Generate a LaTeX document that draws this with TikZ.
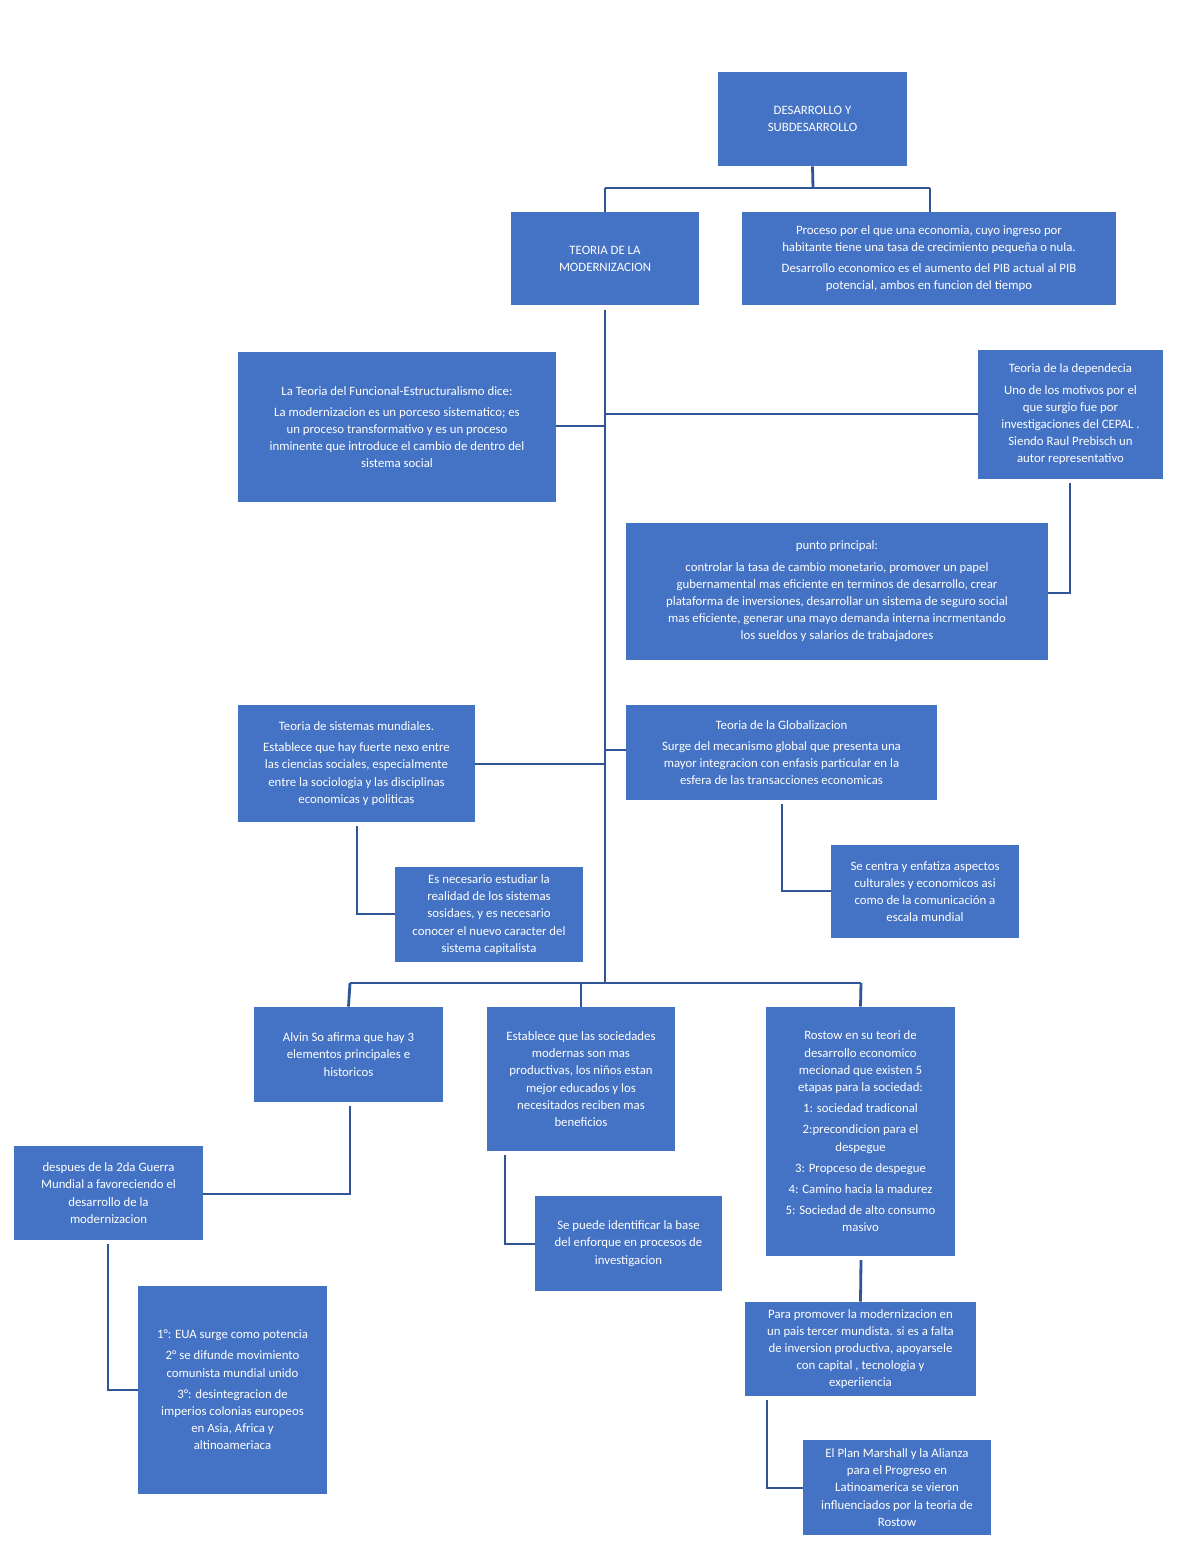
\documentclass[tikz,border=0pt]{standalone}
\usepackage{fontspec}
\setmainfont{Carlito}
\begin{document}
\begin{tikzpicture}[x=0.5pt,y=-0.5pt]
\definecolor{bx}{HTML}{4472C4}
\definecolor{ln}{HTML}{2F5597}
\tikzset{box/.style={fill=bx,draw=none,text=white,align=center,font=\fontsize{6.4pt}{8.6pt}\selectfont,inner sep=1pt},
 con/.style={draw=ln,line width=1.4pt}}
\useasboundingbox (0,0) rectangle (1200,1553);
\fill[white] (0,0) rectangle (1200,1553);
\newcommand{\bx}[6]{\node[box,minimum width={(#4-#2)*0.5pt},minimum height={(#5-#3)*0.5pt}] (#1) at ({(#2+#4)/2},{(#3+#5)/2}) {#6};}
\bx{A}{718}{72}{907}{166}{DESARROLLO Y\\SUBDESARROLLO}
\bx{B}{511}{212}{699}{305}{TEORIA DE LA\\MODERNIZACION}
\bx{C}{742}{212}{1116}{305}{Proceso por el que una economia, cuyo ingreso por\\habitante tiene una tasa de crecimiento pequeña o nula.\\[2pt]Desarrollo economico es el aumento del PIB actual al PIB\\potencial, ambos en funcion del tiempo}
\bx{D}{238}{352}{556}{502}{La Teoria del Funcional-Estructuralismo dice:\\[2pt]La modernizacion es un porceso sistematico; es\\un proceso transformativo y es un proceso\\inminente que introduce el cambio de dentro del\\sistema social}
\bx{E}{978}{350}{1163}{479}{Teoria de la dependecia\\[2pt]Uno de los motivos por el\\que surgio fue por\\investigaciones  del CEPAL .\\Siendo Raul Prebisch un\\autor representativo}
\bx{F}{626}{523}{1048}{660}{punto principal:\\[2pt]controlar la tasa de cambio monetario, promover un papel\\gubernamental mas eficiente en terminos de desarrollo, crear\\plataforma de inversiones, desarrollar un sistema de seguro social\\mas eficiente, generar una mayo demanda interna incrmentando\\los sueldos y salarios de trabajadores}
\bx{G}{238}{705}{475}{822}{Teoria de sistemas mundiales.\\[2pt]Establece que hay fuerte nexo entre\\las ciencias sociales, especialmente\\entre la sociologia y las disciplinas\\economicas y politicas}
\bx{H}{626}{705}{937}{800}{Teoria de la Globalizacion\\[2pt]Surge del mecanismo global que presenta una\\mayor integracion con enfasis particular en la\\esfera de las transacciones economicas}
\bx{I}{395}{867}{583}{962}{Es necesario estudiar la\\realidad de los sistemas\\sosidaes, y es necesario\\conocer el nuevo caracter del\\sistema capitalista}
\bx{J}{831}{845}{1019}{938}{Se centra y enfatiza aspectos\\culturales y economicos asi\\como de la comunicación a\\escala mundial}
\bx{K}{254}{1007}{443}{1102}{Alvin So afirma que hay 3\\elementos principales e\\historicos}
\bx{L}{487}{1007}{675}{1151}{Establece  que las sociedades\\modernas son mas\\productivas, los niños estan\\mejor educados y los\\necesitados reciben mas\\beneficios}
\bx{M}{766}{1007}{955}{1256}{Rostow en su teori de\\desarrollo economico\\mecionad que existen 5\\etapas para la sociedad:\\[2pt]1: sociedad tradiconal\\[2pt]2:precondicion para el\\despegue\\[2pt]3: Propceso de despegue\\[2pt]4: Camino hacia la madurez\\[2pt]5: Sociedad de alto consumo\\masivo}
\bx{N}{14}{1146}{203}{1240}{despues de la 2da Guerra\\Mundial a favoreciendo el\\desarrollo de la\\modernizacion}
\bx{O}{535}{1196}{722}{1291}{Se puede identificar la base\\del enforque en procesos de\\investigacion}
\bx{P}{745}{1302}{976}{1396}{Para promover la modernizacion en\\un pais tercer mundista. si es a falta\\de inversion productiva, apoyarsele\\con capital , tecnologia y\\experiiencia}
\bx{Q}{138}{1286}{327}{1494}{1°: EUA surge como potencia\\[2pt]2° se difunde movimiento\\comunista mundial unido\\[2pt]3°: desintegracion de\\imperios colonias europeos\\en Asia, Africa y\\altinoameriaca}
\bx{R}{803}{1440}{991}{1535}{El Plan Marshall y la Alianza\\para el Progreso en\\Latinoamerica se vieron\\influenciados por la teoria de\\Rostow}
\coordinate (t1) at (813,188);
\draw[con] (A.south) -- (t1);
\draw[con] (605,188) -- (930,188);
\draw[con] (605,188) -- (605,212);
\draw[con] (930,188) -- (930,212);
\coordinate (m0) at (605,310);
\coordinate (m1) at (605,983);
\draw[con] (m0) -- (m1);
\draw[con] (D.east |- 0,426) -- (605,426);
\draw[con] (605,414) -- (E.west |- 0,414);
\draw[con] (1070,483) -- (1070,593) -- (F.east |- 0,593);
\draw[con] (G.east |- 0,764) -- (605,764);
\draw[con] (605,750) -- (H.west |- 0,750);
\draw[con] (357,826) -- (357,914) -- (I.west |- 0,914);
\draw[con] (782,804) -- (782,891) -- (J.west |- 0,891);
\draw[con] (350,983) -- (861,983);
\draw[con] (350,983) -- (K.north);
\draw[con] (581,983) -- (L.north);
\draw[con] (861,983) -- (M.north);
\draw[con] (350,1106) -- (350,1194) -- (N.east |- 0,1194);
\draw[con] (108,1244) -- (108,1390) -- (Q.west |- 0,1390);
\draw[con] (505,1155) -- (505,1244) -- (O.west |- 0,1244);
\draw[con] (861,1260) -- (P.north);
\draw[con] (767,1400) -- (767,1488) -- (R.west |- 0,1488);
\end{tikzpicture}
\end{document}
